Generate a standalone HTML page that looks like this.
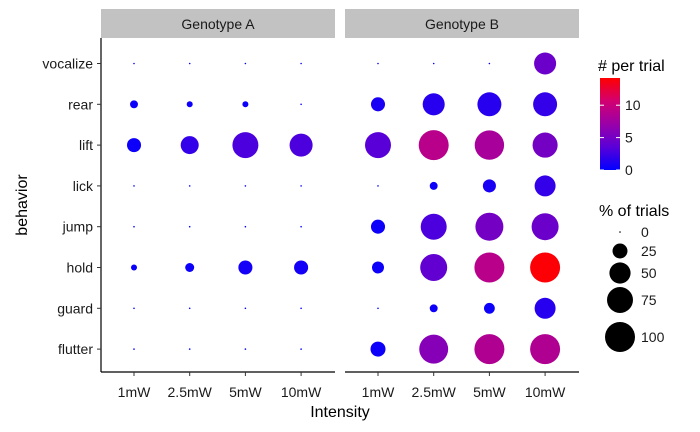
<!DOCTYPE html>
<html><head><meta charset="utf-8"><style>
body{margin:0;background:#fff;}
svg{display:block;font-family:"Liberation Sans",Arial,sans-serif;}
</style></head><body>
<svg id="chart" width="700" height="432" viewBox="0 0 700 432">
<defs><linearGradient id="cb" x1="0" y1="1" x2="0" y2="0">
<stop offset="0" stop-color="#0000ff"/><stop offset="0.25" stop-color="#5a00d8"/><stop offset="0.5" stop-color="#9a00a8"/><stop offset="0.75" stop-color="#d20070"/><stop offset="1" stop-color="#ff0000"/>
</linearGradient></defs>
</svg>
<script>
const behaviors = ["vocalize","rear","lift","lick","jump","hold","guard","flutter"];
const intensities = ["1mW","2.5mW","5mW","10mW"];
const panels = ["Genotype A","Genotype B"];
// percent of trials [behavior][intensity]
const pctA = [[0,0,0,0],[7,4,4,0],[22,36,75,59],[0,0,0,0],[0,0,0,0],[4,9,22,22],[0,0,0,0],[0,0,0,0]];
const pctB = [[0,0,0,54],[22,54,64,64],[75,100,96,70],[0,7,19,49],[22,75,87,81],[16,81,100,100],[0,7,13,49],[25,93,100,100]];
// number per trial
const cntA = [[0,0,0,0],[0.5,0.5,0.5,0],[0.5,2,3,3],[0,0,0,0],[0,0,0,0],[0.3,0.5,0.8,0.8],[0,0,0,0],[0,0,0,0]];
const cntB = [[0,0,0,4.5],[1,1.5,1.5,2],[3.5,9,8,5],[0,0.5,1,2],[0.5,3,5,4.5],[0.5,4,9,14],[0,0.5,0.5,1.5],[0.5,6,8.5,8.5]];
const colorTicks = [0,5,10];
const sizeTicks = [0,25,50,75,100];

const svgEl = document.getElementById('chart');
const NS = "http://www.w3.org/2000/svg";
function el(tag, attrs, parent){const e=document.createElementNS(NS,tag);for(const k in attrs)e.setAttribute(k,attrs[k]);(parent||svgEl).appendChild(e);return e;}
const panelX = [101,345], panelW = 234, plotTop = 38, plotBottom = 372;
const cmax = 14.2;
function xPos(p,i){return panelX[p]+33+i*55.7;}
function yPos(b){return 63.5+b*40.8;}
function rSize(v){return v<=0?0.8:15*Math.sqrt(v/100);}
const stops=[[0,[0,0,255]],[0.25,[90,0,216]],[0.5,[154,0,168]],[0.75,[210,0,112]],[1,[255,0,0]]];
function colFor(v){let t=Math.max(0,Math.min(1,v/cmax));for(let i=1;i<stops.length;i++){if(t<=stops[i][0]){const a=stops[i-1],b=stops[i];const f=(t-a[0])/(b[0]-a[0]);const c=a[1].map((x,j)=>Math.round(x+(b[1][j]-x)*f));return 'rgb('+c.join(',')+')';}}return 'rgb(255,0,0)';}
function txt(s,attrs,name){const t=el('text',attrs);t.textContent=s;return t;}

panels.forEach((p,pi)=>{
  const s=el('rect',{x:panelX[pi],y:9,width:panelW,height:29,fill:'#c2c2c2'});
  
  
  txt(p,{x:panelX[pi]+panelW/2,y:29,'text-anchor':'middle','font-size':14,fill:'#1a1a1a'},'strip-label');
  const ax=el('line',{x1:panelX[pi],y1:plotBottom,x2:panelX[pi]+panelW,y2:plotBottom,stroke:'#000','stroke-width':1.2});
  
  
  intensities.forEach((lab,i)=>{
    const x=xPos(pi,i);
    el('line',{x1:x,y1:plotBottom,x2:x,y2:plotBottom+4,stroke:'#333'});
    txt(lab,{x:x,y:397,'text-anchor':'middle','font-size':14,fill:'#1a1a1a'},'x-tick-label');
  });
  const pc = pi?pctB:pctA, cn = pi?cntB:cntA;
  behaviors.forEach((b,bi)=>{
    intensities.forEach((lab,i)=>{
      const c=el('circle',{cx:xPos(pi,i),cy:yPos(bi),r:rSize(pc[bi][i]),fill:colFor(cn[bi][i])});
      
      
    });
  });
});
const yax=el('line',{x1:101,y1:plotTop,x2:101,y2:plotBottom,stroke:'#000','stroke-width':1.2});


behaviors.forEach((b,bi)=>{
  const y=yPos(bi);
  el('line',{x1:97,y1:y,x2:101,y2:y,stroke:'#333'});
  txt(b,{x:93,y:y+5,'text-anchor':'end','font-size':14,fill:'#1a1a1a'},'y-tick-label');
});
txt('Intensity',{x:340,y:417,'text-anchor':'middle','font-size':16,fill:'#000'},'x-axis-title');
txt('behavior',{x:27,y:205,'text-anchor':'middle','font-size':16,fill:'#000',transform:'rotate(-90 27 205)'},'y-axis-title');

// color legend
txt('# per trial',{x:598,y:71,'font-size':16,fill:'#000'},'color-legend-title');
const cbTop=78, cbBot=170;
const cbr=el('rect',{x:600,y:cbTop,width:20,height:cbBot-cbTop,fill:'url(#cb)'});


colorTicks.forEach(v=>{
  const y=cbBot-(v/cmax)*(cbBot-cbTop);
  el('line',{x1:600,y1:y,x2:604,y2:y,stroke:'#fff'});
  el('line',{x1:616,y1:y,x2:620,y2:y,stroke:'#fff'});
  txt(String(v),{x:625,y:y+5,'font-size':14,fill:'#1a1a1a'},'colorbar-label');
});
// size legend
txt('% of trials',{x:599,y:216,'font-size':16,fill:'#000'},'size-legend-title');
const sy=[232,251,273,300,337];
sizeTicks.forEach((v,i)=>{
  const c=el('circle',{cx:620,cy:sy[i],r:rSize(v),fill:'#000'});
  
  
  txt(String(v),{x:641,y:sy[i]+5,'font-size':14,fill:'#1a1a1a'},'size-legend-label');
});
</script>
</body></html>
